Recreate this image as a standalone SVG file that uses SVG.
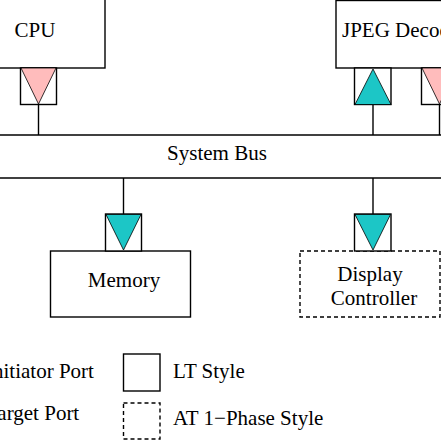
<svg xmlns="http://www.w3.org/2000/svg" width="441" height="441" viewBox="0 0 441 441">
<style>
.box{fill:#fff;stroke:#000;stroke-width:1.4}
.dash{fill:#fff;stroke:#000;stroke-width:1.4;stroke-dasharray:4,3}
.port{fill:#fff;stroke:#000;stroke-width:1.4}
.ini{fill:#ffbcbc;stroke:#000;stroke-width:0.8}
.tgt{fill:#1cc6c6;stroke:#000;stroke-width:0.8}
.ln{stroke:#000;stroke-width:1.4;fill:none}
text{font-family:"Liberation Serif","Times New Roman",serif;font-size:21px;fill:#000}
</style>
<rect width="441" height="441" fill="#fff"/>
<g id="connectors">
<line class="ln" x1="0" y1="135" x2="441" y2="135"/>
<line class="ln" x1="0" y1="178" x2="441" y2="178"/>
<line class="ln" x1="38.5" y1="104" x2="38.5" y2="135"/>
<line class="ln" x1="373" y1="105" x2="373" y2="135"/>
<line class="ln" x1="439.5" y1="104" x2="439.5" y2="135"/>
<line class="ln" x1="123.5" y1="178" x2="123.5" y2="214"/>
<line class="ln" x1="373" y1="178" x2="373" y2="214"/>
</g>
<g id="bus"><text x="217" y="160" text-anchor="middle">System Bus</text></g>
<g id="cpu">
<rect class="box" x="-35" y="-2" width="140" height="70"/>
<text x="35" y="37" text-anchor="middle">CPU</text>
<rect class="port" x="20.5" y="68" width="36" height="36.5"/>
<polygon class="ini" points="21,68 56,68 38.5,104"/>
</g>
<g id="jpeg">
<rect class="box" x="336" y="0.5" width="140" height="67.5"/>
<text x="342" y="37">JPEG Decoder</text>
<rect class="port" x="354.5" y="68" width="36.5" height="36.5"/>
<polygon class="tgt" points="373,69 355,104.5 391,104.5"/>
<rect class="port" x="421.5" y="68" width="36" height="36.5"/>
<polygon class="ini" points="422,68 457,68 439.5,104"/>
</g>
<g id="memory">
<rect class="box" x="50.5" y="251" width="140" height="66"/>
<text x="124" y="287" text-anchor="middle">Memory</text>
<rect class="port" x="105.5" y="214" width="36" height="37"/>
<polygon class="tgt" points="106,214.5 141,214.5 123.5,250"/>
</g>
<g id="display">
<rect class="dash" x="300" y="251" width="140" height="66"/>
<text x="370" y="281" text-anchor="middle">Display</text>
<text x="374" y="305" text-anchor="middle">Controller</text>
<rect class="port" x="354.5" y="214" width="36.5" height="37"/>
<polygon class="tgt" points="355,214.5 390.5,214.5 373,250"/>
</g>
<g id="legend">
<text x="-14" y="378">Initiator Port</text>
<text x="-14" y="420">Target Port</text>
<rect class="box" x="123.5" y="354" width="36.5" height="37"/>
<text x="173" y="378">LT Style</text>
<rect class="dash" x="123.5" y="403" width="36.5" height="36"/>
<text x="173" y="425">AT 1−Phase Style</text>
</g>
</svg>
